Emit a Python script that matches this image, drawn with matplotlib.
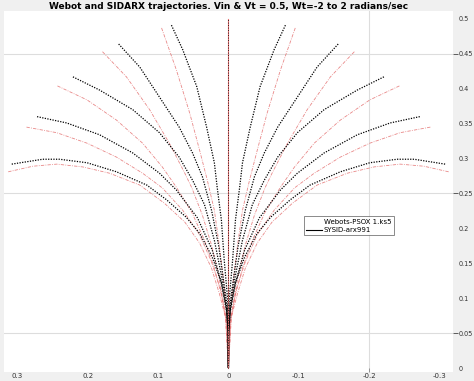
import matplotlib
matplotlib.use("Agg")
import matplotlib.pyplot as plt
from matplotlib.lines import Line2D
import numpy as np

# trajectories (left half, x > 0); right half is the mirror image
webot_x = [
    [0.308, 0.264, 0.240, 0.201, 0.159, 0.116, 0.088, 0.060, 0.041, 0.023, 0.010, 0.003, 0.0, 0.0],
    [0.272, 0.230, 0.183, 0.136, 0.098, 0.074, 0.044, 0.023, 0.010, 0.003, 0.0, 0.0],
    [0.221, 0.183, 0.136, 0.098, 0.070, 0.051, 0.034, 0.020, 0.010, 0.003, 0.0, 0.0],
    [0.156, 0.126, 0.098, 0.070, 0.051, 0.037, 0.024, 0.014, 0.007, 0.001, 0.0],
    [0.081, 0.065, 0.045, 0.031, 0.020, 0.016, 0.010, 0.006, 0.001, 0.0],
]
webot_y = [
    [0.292, 0.299, 0.299, 0.294, 0.281, 0.262, 0.241, 0.216, 0.193, 0.159, 0.122, 0.087, 0.054, 0.0],
    [0.360, 0.351, 0.334, 0.308, 0.279, 0.255, 0.215, 0.169, 0.122, 0.083, 0.047, 0.0],
    [0.417, 0.398, 0.370, 0.337, 0.302, 0.269, 0.234, 0.183, 0.133, 0.090, 0.047, 0.0],
    [0.464, 0.431, 0.388, 0.345, 0.308, 0.274, 0.226, 0.176, 0.126, 0.083, 0.0],
    [0.491, 0.456, 0.403, 0.345, 0.294, 0.259, 0.212, 0.155, 0.097, 0.0],
]
sysid_x = [
    [0.313, 0.278, 0.244, 0.207, 0.169, 0.126, 0.091, 0.062, 0.041, 0.024, 0.013, 0.004, 0.0],
    [0.287, 0.244, 0.201, 0.159, 0.122, 0.094, 0.065, 0.041, 0.024, 0.011, 0.004, 0.0],
    [0.243, 0.201, 0.159, 0.122, 0.094, 0.074, 0.052, 0.034, 0.020, 0.010, 0.003, 0.0],
    [0.179, 0.145, 0.112, 0.084, 0.062, 0.052, 0.037, 0.024, 0.014, 0.007, 0.001, 0.0],
    [0.095, 0.074, 0.055, 0.041, 0.030, 0.020, 0.013, 0.007, 0.003, 0.0],
]
sysid_y = [
    [0.281, 0.289, 0.292, 0.288, 0.279, 0.262, 0.236, 0.209, 0.179, 0.143, 0.107, 0.072, 0.0],
    [0.345, 0.337, 0.322, 0.302, 0.279, 0.258, 0.226, 0.191, 0.152, 0.112, 0.072, 0.0],
    [0.404, 0.384, 0.355, 0.322, 0.288, 0.259, 0.223, 0.183, 0.143, 0.105, 0.069, 0.0],
    [0.453, 0.417, 0.370, 0.322, 0.279, 0.258, 0.219, 0.176, 0.133, 0.093, 0.054, 0.0],
    [0.487, 0.427, 0.365, 0.312, 0.269, 0.226, 0.176, 0.126, 0.083, 0.0],
]
straight_x = [0.0, 0.0]
straight_y = [0.0, 0.5]

x_major = [-0.2]
x_minor = [0.3, 0.2, 0.1, 0.0, -0.1, -0.3]
y_major = [0.05, 0.25, 0.45]
y_minor = [0.0, 0.1, 0.15, 0.2, 0.3, 0.35, 0.4, 0.5]

title = "Webot and SIDARX trajectories. Vin & Vt = 0.5, Wt=-2 to 2 radians/sec"
legend_labels = ["Webots-PSOX 1.ks5", "SYSID-arx991"]

fig = plt.figure(figsize=(4.74, 3.81), dpi=100, facecolor="#f0f0f0")
ax = fig.add_axes([0.0084, 0.0236, 0.947, 0.947])
ax.set_facecolor("white")

red = "#e57373"
dots = (0, (1, 1.1))
for sgn in (1, -1):
    for xs, ys in zip(sysid_x, sysid_y):
        ax.plot(sgn * np.array(xs), ys, color=red, lw=0.6, ls=(0, (4, 1.5, 1, 1.5)), alpha=0.85)
    for xs, ys in zip(webot_x, webot_y):
        ax.plot(sgn * np.array(xs), ys, color="black", lw=0.9, ls=dots)
ax.plot(straight_x, straight_y, color=red, lw=0.8)
ax.plot(straight_x, straight_y, color="black", lw=0.6, ls=(0, (1, 2)))

ax.set_xlim(0.319, -0.319)
ax.set_ylim(-0.0057, 0.511)

for s in ax.spines.values():
    s.set_visible(False)

ax.set_xticks(x_major)
ax.set_xticks(x_minor, minor=True)
ax.set_xticklabels([f"{v:g}" for v in x_major])
ax.set_xticklabels([f"{v:g}" for v in x_minor], minor=True)
ax.tick_params(axis="x", which="major", direction="in", length=3, width=0.6, color="#888888",
               pad=1, labelsize=5, labelcolor="#333333")
ax.tick_params(axis="x", which="minor", length=0, pad=1, labelsize=5, labelcolor="#333333")

ax.yaxis.tick_right()
ax.set_yticks(y_major)
ax.set_yticks(y_minor, minor=True)
ax.set_yticklabels([f"{v:g}" for v in y_major])
ax.set_yticklabels([f"{v:g}" for v in y_minor], minor=True)
ax.tick_params(axis="y", which="major", direction="out", length=3.5, width=0.6, color="#444444",
               pad=0.8, labelsize=4.7, labelcolor="#333333")
ax.tick_params(axis="y", which="minor", length=0, pad=4.3, labelsize=4.7, labelcolor="#333333")

ax.grid(True, which="major", color="#dddddd", lw=0.8)
ax.set_axisbelow(True)

ax.set_title(title, fontsize=6.5, fontweight="bold", pad=1.5)

handles = [Line2D([], [], color="white", lw=0.8), Line2D([], [], color="black", lw=0.8)]
leg = ax.legend(handles, legend_labels, loc="upper left", bbox_to_anchor=(0.668, 0.432),
                fontsize=5, frameon=True, fancybox=False, shadow=False, handlelength=2.2,
                handletextpad=0.3, borderpad=0.35, labelspacing=0.35, borderaxespad=0)
leg.get_frame().set_edgecolor("#555555")
leg.get_frame().set_linewidth(0.6)

fig.savefig("out.png", dpi=100, facecolor=fig.get_facecolor())
